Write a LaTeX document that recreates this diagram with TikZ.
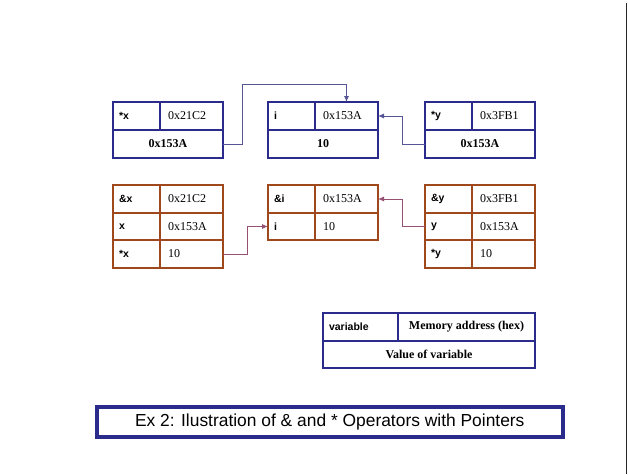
\documentclass[tikz,border=0pt]{standalone}
\usepackage{fontspec}
\setmainfont{Liberation Serif}
\setsansfont{Liberation Sans}
\usetikzlibrary{arrows.meta}
\definecolor{navyb}{RGB}{43,43,140}
\definecolor{brownb}{RGB}{158,72,28}
\definecolor{conT}{RGB}{85,85,150}
\definecolor{conB}{RGB}{150,80,115}
\definecolor{edgeg}{RGB}{40,40,40}
\tikzset{
  cell/.style={draw, line width=1.3pt, anchor=north west, inner sep=0pt, outer sep=0pt},
  tcell/.style={cell, draw=navyb},
  bcell/.style={cell, draw=brownb},
  namec/.style={text width=#1, align=left, inner xsep=6pt, font=\sffamily\bfseries\fontsize{10.5}{12}\selectfont},
  addrc/.style={text width=#1, align=left, inner xsep=8pt, font=\fontsize{12}{14}\selectfont},
  valc/.style={align=center, font=\bfseries\fontsize{12}{14}\selectfont},
  conTop/.style={draw=conT, line width=0.9pt, -{Latex[length=6pt,width=5pt]}},
  conBot/.style={draw=conB, line width=0.9pt, -{Latex[length=6pt,width=5pt]}},
}
\begin{document}
\begin{tikzpicture}[x=1pt,y=-1pt]
\useasboundingbox (0,0) rectangle (628,474);
\draw[edgeg, line width=0.8pt] (626,3) -- (626,474);
% ---------- top row ----------
\node[tcell, namec=35pt, minimum height=28pt] (tx-n) at (113,102) {*x};
\node[tcell, addrc=47pt, minimum height=28pt] (tx-a) at (160,102) {0x21C2};
\node[tcell, valc, minimum width=110pt, minimum height=28pt] (tx-v) at (113,130) {0x153A};
\node[tcell, namec=35pt, minimum height=28pt] (ti-n) at (268,102) {i};
\node[tcell, addrc=47pt, minimum height=28pt] (ti-a) at (315,102) {0x153A};
\node[tcell, valc, minimum width=110pt, minimum height=28pt] (ti-v) at (268,130) {10};
\node[tcell, namec=35pt, minimum height=28pt] (ty-n) at (425,102) {*y};
\node[tcell, addrc=47pt, minimum height=28pt] (ty-a) at (472,102) {0x3FB1};
\node[tcell, valc, minimum width=110pt, minimum height=28pt] (ty-v) at (425,130) {0x153A};
\draw[conTop] (tx-v.east) -- ++(19,0) |- ([yshift=18pt]ti-a.north) -- (ti-a.north);
\draw[conTop] (ty-v.west) -- ++(-23,0) |- (ti-a.east);
% ---------- bottom row ----------
\node[bcell, namec=35pt, minimum height=28pt] (bx1-n) at (113,185) {\&x};
\node[bcell, addrc=47pt, minimum height=28pt] (bx1-a) at (160,185) {0x21C2};
\node[bcell, namec=35pt, minimum height=27pt] (bx2-n) at (113,213) {x};
\node[bcell, addrc=47pt, minimum height=27pt] (bx2-a) at (160,213) {0x153A};
\node[bcell, namec=35pt, minimum height=28pt] (bx3-n) at (113,240) {*x};
\node[bcell, addrc=47pt, minimum height=28pt] (bx3-a) at (160,240) {10};
\node[bcell, namec=35pt, minimum height=28pt] (bi1-n) at (268,185) {\&i};
\node[bcell, addrc=47pt, minimum height=28pt] (bi1-a) at (315,185) {0x153A};
\node[bcell, namec=35pt, minimum height=27pt] (bi2-n) at (268,213) {i};
\node[bcell, addrc=47pt, minimum height=27pt] (bi2-a) at (315,213) {10};
\node[bcell, namec=35pt, minimum height=28pt] (by1-n) at (425,185) {\&y};
\node[bcell, addrc=47pt, minimum height=28pt] (by1-a) at (472,185) {0x3FB1};
\node[bcell, namec=35pt, minimum height=27pt] (by2-n) at (425,213) {y};
\node[bcell, addrc=47pt, minimum height=27pt] (by2-a) at (472,213) {0x153A};
\node[bcell, namec=35pt, minimum height=28pt] (by3-n) at (425,240) {*y};
\node[bcell, addrc=47pt, minimum height=28pt] (by3-a) at (472,240) {10};
\draw[conBot] (bx3-a.east) -- ++(24,0) |- (bi2-n.west);
\draw[conBot] (by2-n.west) -- ++(-23,0) |- (bi1-a.east);
% ---------- legend ----------
\node[tcell, namec=63pt, minimum height=28pt] (lg-n) at (323,313) {variable};
\node[tcell, valc, minimum width=137pt, minimum height=28pt] (lg-a) at (398,313) {Memory address (hex)};
\node[tcell, valc, minimum width=212pt, minimum height=27pt] (lg-v) at (323,341) {Value of variable};
% ---------- title ----------
\node[draw=navyb, line width=3.5pt, anchor=north west, inner sep=0pt, minimum width=466pt, minimum height=30pt, font=\sffamily\fontsize{17.4}{20}\selectfont] (title) at (95,405) {Ex 2: Ilustration of \& and * Operators with Pointers};
\end{tikzpicture}
\end{document}
